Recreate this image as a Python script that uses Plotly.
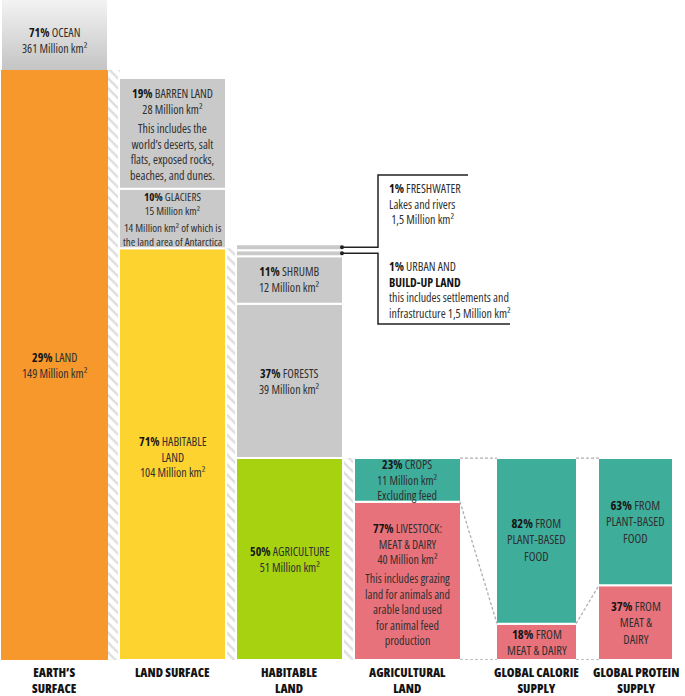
import plotly.graph_objects as go

# ---------------- data (million km² / percent) ----------------
earth_labels = ["LAND", "OCEAN"]
earth_values = [149, 361]
earth_pct = [29, 71]

land_labels = ["HABITABLE LAND", "GLACIERS", "BARREN LAND"]
land_values = [104, 15, 28]
land_pct = [71, 10, 19]

habitable_labels = ["AGRICULTURE", "FORESTS", "SHRUMB", "URBAN AND BUILD-UP LAND", "FRESHWATER"]
habitable_values = [51, 39, 12, 1.5, 1.5]
habitable_pct = [50, 37, 11, 1, 1]

agri_labels = ["LIVESTOCK: MEAT & DAIRY", "CROPS"]
agri_values = [40, 11]
agri_pct = [77, 23]

calorie_labels = ["FROM MEAT & DAIRY", "FROM PLANT-BASED FOOD"]
calorie_pct = [18, 82]

protein_labels = ["FROM MEAT & DAIRY", "FROM PLANT-BASED FOOD"]
protein_pct = [37, 63]

column_titles = [["EARTH\u2019S", "SURFACE"], ["LAND SURFACE"], ["HABITABLE", "LAND"],
                 ["AGRICULTURAL", "LAND"], ["GLOBAL CALORIE", "SUPPLY"], ["GLOBAL PROTEIN", "SUPPLY"]]

# ---------------- layout constants ----------------
W, H = 685, 696
BOTTOM = 36
PLOT_H = H - BOTTOM
YMAX = 166.7
S = PLOT_H / YMAX


def py(p):
    """pixel row -> y data units (for text / leader placement)"""
    return (PLOT_H - p) / S


FONT = "Open Sans"
ORANGE = "#F7982D"
YELLOW = "#FDD32F"
GREEN = "#A6D20F"
TEAL = "#3EAE9B"
PINK = "#E8727B"
GRAY = "#C9C9C9"
TXT = "#303030"
BOLD = "#151515"

cols = {
    "earth": (1, 108),
    "land": (119, 226),
    "hab": (236, 343),
    "agri": (354, 461),
    "cal": (496, 577),
    "prot": (598, 673),
}
hatches = [(107, 120), (225, 237), (342, 355)]


def cx(k):
    a, b = cols[k]
    return (a + b) / 2


def cw(k):
    a, b = cols[k]
    return b - a


def bases(vals):
    out, s = [], 0
    for v in vals:
        out.append(s)
        s += v
    return out


fig = go.Figure()

hatch_heights = [earth_values[0], land_values[0], habitable_values[0]]
fig.add_trace(go.Bar(
    x=[(a + b) / 2 for a, b in hatches], y=hatch_heights, base=[0, 0, 0],
    width=[b - a for a, b in hatches],
    marker=dict(color="white", line=dict(width=0),
                pattern=dict(shape="\\", fgcolor="#bcbcbc", bgcolor="white", size=7, solidity=0.34)),
    hoverinfo="skip"))


def add_column(key, vals, colors, border=2):
    fig.add_trace(go.Bar(
        x=[cx(key)] * len(vals), y=vals, base=bases(vals), width=[cw(key)] * len(vals),
        marker=dict(color=colors, line=dict(color="white", width=border)),
        hoverinfo="skip"))


add_column("earth", earth_values[:1], [ORANGE], border=0)
add_column("land", land_values, [YELLOW, GRAY, GRAY])
add_column("hab", habitable_values, [GREEN, GRAY, GRAY, GRAY, GRAY])
add_column("agri", agri_values, [PINK, TEAL])
agri_total = sum(agri_values)
cal_vals = [p / 100 * agri_total for p in calorie_pct]
prot_vals = [p / 100 * agri_total for p in protein_pct]
add_column("cal", cal_vals, [PINK, TEAL])
add_column("prot", prot_vals, [PINK, TEAL])

# ocean: clipped bar with a vertical gradient
ex0, ex1 = 2, 107
ob, ot = earth_values[0], earth_values[0] + earth_values[1]
fig.add_trace(go.Scatter(
    x=[ex0, ex1, ex1, ex0, ex0], y=[ob, ob, ot, ot, ob], mode="none", fill="toself",
    fillgradient=dict(type="vertical", colorscale=[[0, "#c4c4c4"], [1, "#f3f3f3"]], start=ob, stop=YMAX),
    hoverinfo="skip"))

# dashed connectors between food columns
a_r = cols["agri"][1] - 1
c_l, c_r = cols["cal"][0] + 1, cols["cal"][1] - 1
p_l = cols["prot"][0] + 1
dx = [a_r, c_l, None, c_r, p_l, None, a_r, c_l, None, c_r, p_l, None, a_r, c_l, None, c_r, p_l]
dy = [agri_total, agri_total, None, agri_total, agri_total, None,
      0, 0, None, 0, 0, None,
      agri_values[0], cal_vals[0], None, cal_vals[0], prot_vals[0]]
fig.add_trace(go.Scatter(x=dx, y=dy, mode="lines",
                         line=dict(color="#b0b0b0", width=1.3, dash="3px,2px"),
                         hoverinfo="skip"))

# leader lines for freshwater / urban
hb = bases(habitable_values)
fresh_mid = hb[4] + habitable_values[4] / 2
urban_mid = hb[3] + habitable_values[3] / 2
hx = cols["hab"][1] - 1
kx = 378
fig.add_trace(go.Scatter(
    x=[hx, kx, kx, 468, None, hx, kx, kx, 510],
    y=[fresh_mid, fresh_mid, py(175), py(175), None, urban_mid, urban_mid, py(324), py(324)],
    mode="lines", line=dict(color="#222", width=1.5), hoverinfo="skip"))
fig.add_trace(go.Scatter(x=[hx, hx], y=[fresh_mid, urban_mid], mode="markers",
                         marker=dict(color="#222", size=4), hoverinfo="skip"))

# ---------------- text ----------------
ann = []


def block(x, y, lines, off=0, size=12, xanchor="center", color=TXT, weight=None):
    """multi-line label centred at y, shifted `off` pixels downward"""
    sty = f"font-stretch:75%;font-size:{size}px" + (f";font-weight:{weight}" if weight else "")
    body = "<br>".join(lines).replace("<b>", f"<b style='color:{BOLD};font-size:{size}px'>")
    ann.append(dict(x=x, y=y, xref="x", yref="y",
                    text=f"<span style='{sty}'>{body}</span>", showarrow=False,
                    xanchor=xanchor, yanchor="middle", yshift=-off,
                    align="left" if xanchor == "left" else "center",
                    font=dict(family=FONT, size=size, color=color)))


KM = " Million km\u00b2"


def pc(p):
    return f"<b>{p}%</b>"


# earth's surface
block(cx("earth"), (ob + YMAX) / 2, [f"{pc(earth_pct[1])} OCEAN", f"{earth_values[1]}{KM}"], 5)
block(cx("earth"), earth_values[0] / 2, [f"{pc(earth_pct[0])} LAND", f"{earth_values[0]}{KM}"], 0)

# land surface
lb = bases(land_values)
block(cx("land"), land_values[0] / 2,
      [f"{pc(land_pct[0])} HABITABLE", "LAND", f"{land_values[0]}{KM}"], 3)
g_mid = lb[1] + land_values[1] / 2
block(cx("land"), g_mid, [f"{pc(land_pct[1])} GLACIERS", f"{land_values[1]}{KM}"], -15, size=11)
block(cx("land"), g_mid, ["14 Million km\u00b2 of which is", "the land area of Antarctica"], 15.5, size=11)
b_mid = lb[2] + land_values[2] / 2
block(cx("land"), b_mid, [f"{pc(land_pct[2])} BARREN LAND", f"{land_values[2]}{KM}"], -32)
block(cx("land"), b_mid,
      ["This includes the", "world\u2019s deserts, salt", "flats, exposed rocks,", "beaches, and dunes."], 19)

# habitable land
block(cx("hab"), hb[0] + habitable_values[0] / 2,
      [f"{pc(habitable_pct[0])} AGRICULTURE", f"{habitable_values[0]}{KM}"], 0.5)
block(cx("hab"), hb[1] + habitable_values[1] / 2,
      [f"{pc(habitable_pct[1])} FORESTS", f"{habitable_values[1]}{KM}"], 1)
block(cx("hab"), hb[2] + habitable_values[2] / 2,
      [f"{pc(habitable_pct[2])} SHRUMB", f"{habitable_values[2]}{KM}"], 0)
block(387, py(175), [f"{pc(habitable_pct[4])} FRESHWATER", "Lakes and rivers", f" 1,5{KM}"],
      29, xanchor="left")
block(387, py(324), [f"{pc(habitable_pct[3])} URBAN AND", "<b>BUILD-UP LAND</b>",
                     "this includes settlements and", f"infrastructure 1,5{KM}"],
      -34, xanchor="left")

# agricultural land
ab = bases(agri_values)
block(cx("agri"), ab[1] + agri_values[1] / 2,
      [f"{pc(agri_pct[1])} CROPS", f"{agri_values[1]}{KM}", "Excluding feed"], 0.5)
block(cx("agri"), ab[0] + agri_values[0] / 2,
      [f"{pc(agri_pct[0])} LIVESTOCK:", "MEAT &amp; DAIRY", f"{agri_values[0]}{KM}"], -37)
block(cx("agri"), ab[0] + agri_values[0] / 2,
      ["This includes grazing", "land for animals and", "arable land used", "for animal feed", "production"], 29)

# calorie / protein supply
cb = bases(cal_vals)
block(cx("cal"), cb[1] + cal_vals[1] / 2, [f"{pc(calorie_pct[1])} FROM", "PLANT-BASED", "FOOD"], -0.5, size=12.5)
block(cx("cal"), cb[0] + cal_vals[0] / 2, [f"{pc(calorie_pct[0])} FROM", "MEAT &amp; DAIRY"], 0.5, size=12.5)
pb = bases(prot_vals)
block(cx("prot"), pb[1] + prot_vals[1] / 2, [f"{pc(protein_pct[1])} FROM", "PLANT-BASED", "FOOD"], 0, size=12.5)
block(cx("prot"), pb[0] + prot_vals[0] / 2, [f"{pc(protein_pct[0])} FROM", "MEAT &amp;", "DAIRY"], 0, size=12.5)

# column titles
for key, title in zip(["earth", "land", "hab", "agri", "cal", "prot"], column_titles):
    block(cx(key), 0, title, 12 + 8 * (len(title) - 1), size=12.5, color="#141414", weight=800)

fig.update_layout(
    width=W, height=H, margin=dict(l=0, r=0, t=0, b=BOTTOM),
    barmode="overlay", showlegend=False,
    paper_bgcolor="white", plot_bgcolor="white",
    xaxis=dict(range=[0, W], visible=False, fixedrange=True),
    yaxis=dict(range=[0, YMAX], visible=False, fixedrange=True),
    annotations=ann,
)

fig.write_html("out.html", config={"displayModeBar": False},
               post_script="document.body.style.margin='0';document.body.style.overflow='hidden';")
